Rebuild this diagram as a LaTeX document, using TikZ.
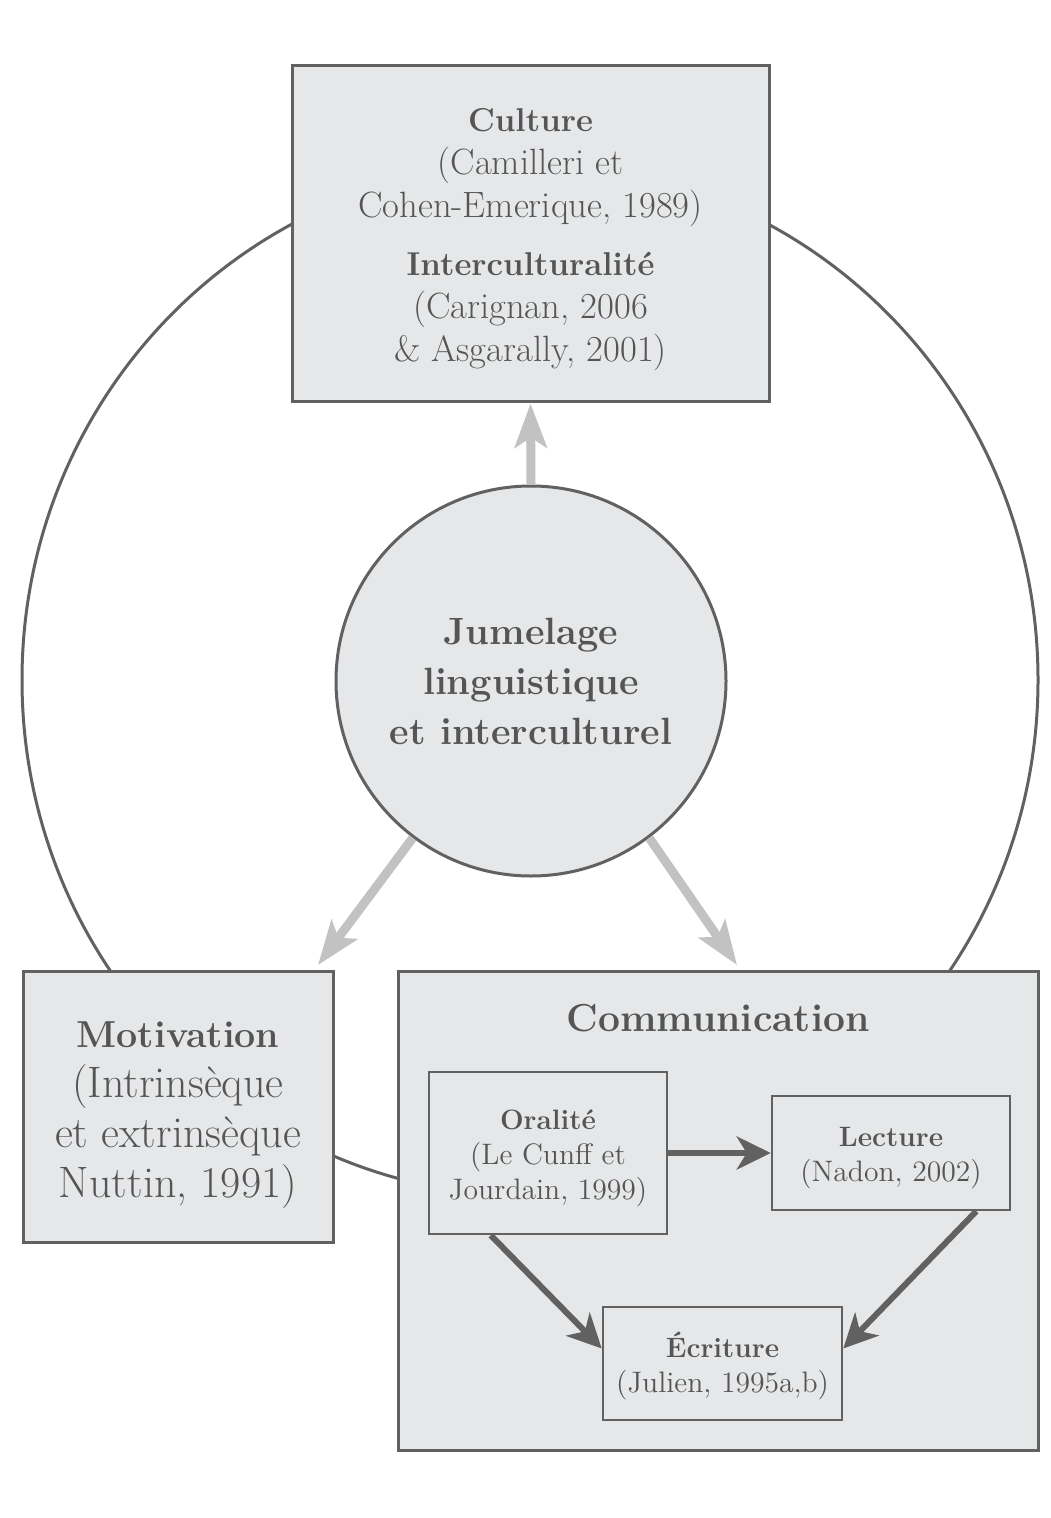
\documentclass[tikz,border=0pt]{standalone}
\usepackage{fontspec}
\usetikzlibrary{arrows.meta}
\definecolor{ink}{HTML}{555555}
\definecolor{edge}{HTML}{616161}
\definecolor{boxfill}{HTML}{E6E7E8}
\definecolor{light}{HTML}{C2C2C2}
\begin{document}
\begin{tikzpicture}[x=0.5pt,y=-0.5pt,
  bigbox/.style={draw=edge, line width=1.5pt, fill=boxfill, inner sep=0pt, anchor=center},
  boxtext/.style={text=ink, align=center, inner sep=0pt, anchor=center},
  smallbox/.style={draw=edge, line width=1.25pt, fill=boxfill, inner sep=0pt, anchor=center, minimum width=119pt},
  smalltext/.style={boxtext, font=\fontsize{14.8}{17.5}\selectfont},
  lightarrow/.style={draw=light, line width=4.5pt, -{Stealth[length=22pt,width=16pt,inset=5pt]}},
  darkarrow/.style={draw=edge, line width=3pt, -{Stealth[length=17pt,width=16.5pt,inset=5pt]}},
]
\useasboundingbox (0,0) rectangle (1050,1518);
\draw[edge, line width=1.5pt] (530,680) ellipse [x radius=508, y radius=516];

\node[bigbox, minimum width=238.5pt, minimum height=168pt] (culture) at (530.5,234) {};
\node[boxtext, font=\fontsize{18.3}{21.5}\selectfont] (culturetext) at (530.5,239.5)
  {{\fontsize{16.5}{21.5}\selectfont\textbf{Culture}}\\(Camilleri et\\Cohen-Emerique, 1989)\\[7.5pt]{\fontsize{16.5}{21.5}\selectfont\textbf{Interculturalité}}\\(Carignan, 2006\\\& Asgarally, 2001)};

\node[circle, draw=edge, line width=1.5pt, fill=boxfill, minimum size=195pt, inner sep=0pt, text=ink, align=center,
  font=\bfseries\fontsize{19}{25}\selectfont] (jum) at (531,681) {Jumelage\\linguistique\\et interculturel};

\node[bigbox, minimum width=155pt, minimum height=135.5pt] (motiv) at (178,1106.5) {};
\node[boxtext, font=\fontsize{22}{25}\selectfont] (motivtext) at (178,1115)
  {{\fontsize{18.8}{25}\selectfont\textbf{Motivation}}\\(Intrinsèque\\et extrinsèque\\Nuttin, 1991)};

\node[bigbox, minimum width=320pt, minimum height=239.5pt] (comm) at (718,1210.5) {};
\node[text=ink, font=\bfseries\fontsize{19.5}{22}\selectfont, inner sep=0pt] (commtitle) at (718,1018) {Communication};

\node[smallbox, minimum height=81pt] (oral) at (548,1153) {};
\node[smalltext] (oraltext) at (548,1158) {{\fontsize{14}{17.5}\selectfont\textbf{Oralité}}\\(Le Cunff et\\Jourdain, 1999)};
\node[smallbox, minimum height=57pt] (lect) at (891,1153) {};
\node[smalltext] (lecttext) at (891,1158) {{\fontsize{14}{17.5}\selectfont\textbf{Lecture}}\\(Nadon, 2002)};
\node[smallbox, minimum width=119.5pt, minimum height=56.5pt] (ecri) at (722.5,1363.5) {};
\node[smalltext] (ecritext) at (722.5,1366) {{\fontsize{14}{17.5}\selectfont\textbf{Écriture}}\\(Julien, 1995a,b)};

\coordinate (lt) at (318,965);
\coordinate (rt) at (737,965);
\draw[lightarrow] (jum.north) -- (culture.south);
\draw[lightarrow] (jum.233) -- (lt);
\draw[lightarrow] (jum.-53) -- (rt);

\draw[darkarrow] (oral.east) -- (lect.west);
\draw[darkarrow] ([xshift=31.5pt]oral.south west) -- ([yshift=7.5pt]ecri.west);
\draw[darkarrow] ([xshift=-17.5pt]lect.south east) -- ([yshift=7.5pt]ecri.east);
\end{tikzpicture}
\end{document}
